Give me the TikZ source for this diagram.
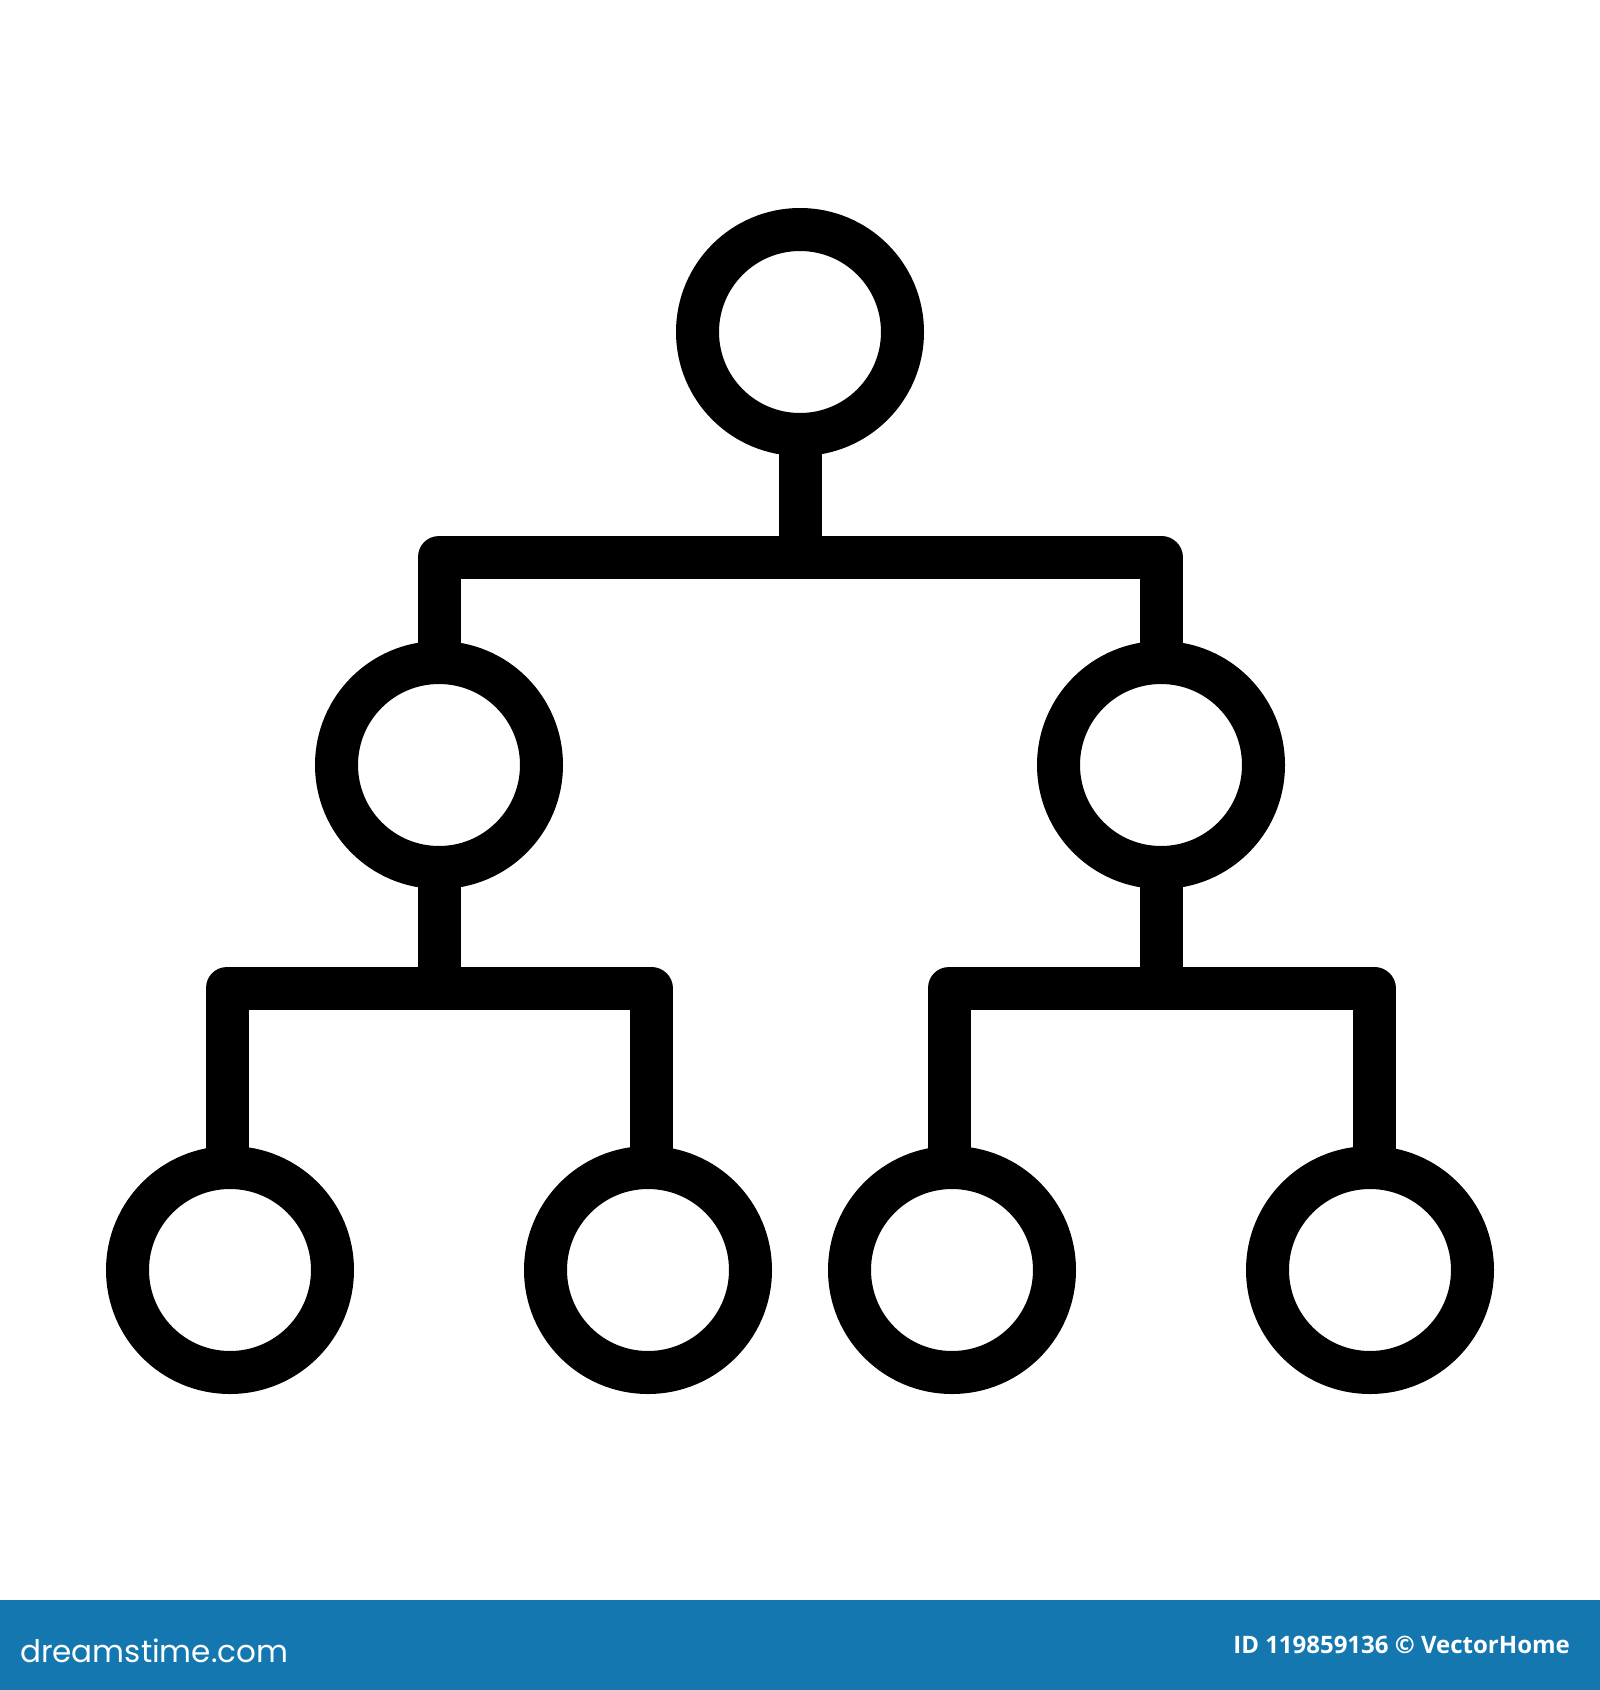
\documentclass[tikz,border=0pt]{standalone}
\usepackage{fontspec}
\setmainfont{Open Sans}
\newfontfamily\logofont{Poppins}
\definecolor{dsblue}{RGB}{20,119,176}
\begin{document}
\begin{tikzpicture}[x=1pt,y=-1pt,
  ring/.style={circle,draw=black,fill=white,line width=43pt,minimum size=205pt,inner sep=0pt,outer sep=0pt},
  conn/.style={draw=black,line width=43pt,line join=round,line cap=butt}]
\useasboundingbox (0,0) rectangle (1600,1690);
\fill[white] (0,0) rectangle (1600,1600);
\fill[dsblue] (0,1600) rectangle (1600,1690);
% junction coordinates
\coordinate (j0) at (800,557);
\coordinate (j1) at (439,988);
\coordinate (j2) at (1161,988);
% connectors
\draw[conn] (800,332) -- (j0);
\draw[conn] (439,765) |- (j0) -| (1161,765);
\draw[conn] (439,765) -- (j1);
\draw[conn] (1161,765) -- (j2);
\draw[conn] (227,1270) |- (j1) -| (651,1270);
\draw[conn] (949,1270) |- (j2) -| (1374,1270);
% circles
\node[ring] (top) at (800,332) {};
\node[ring] (m1) at (439,765) {};
\node[ring] (m2) at (1161,765) {};
\node[ring] (b1) at (230,1270) {};
\node[ring] (b2) at (648,1270) {};
\node[ring] (b3) at (952,1270) {};
\node[ring] (b4) at (1370,1270) {};
% footer texts
\node[anchor=base west,text=white,inner sep=0pt] (logo) at (20,1662) {\logofont\fontsize{31}{37}\selectfont dreamstime.com};
\node[anchor=base east,text=white,inner sep=0pt] (id) at (1570,1653) {\fontsize{24}{30}\selectfont\bfseries ID 119859136 © VectorHome};
\end{tikzpicture}
\end{document}
